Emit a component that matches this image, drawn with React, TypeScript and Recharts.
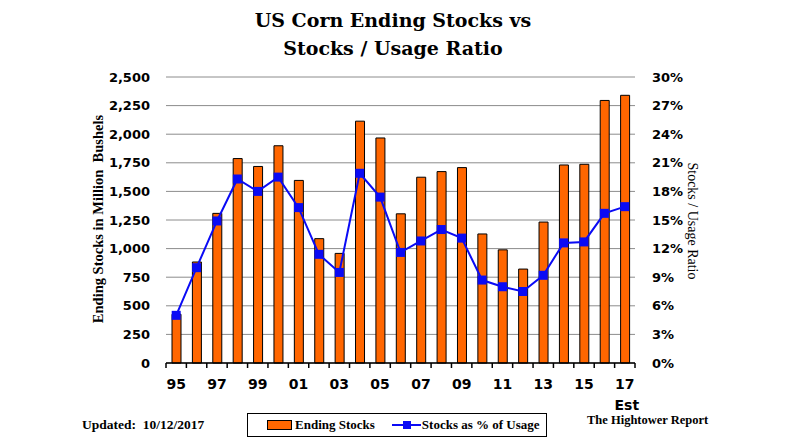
import React from 'react'
import {
  Bar,
  CartesianGrid,
  ComposedChart,
  Legend,
  Line,
  XAxis,
  YAxis,
} from 'recharts'

const years = [
  '95', '96', '97', '98', '99', '00', '01', '02', '03', '04', '05', '06',
  '07', '08', '09', '10', '11', '12', '13', '14', '15', '16', '17',
]
const endingStocks = [
  426, 883, 1308, 1787, 1718, 1899, 1596, 1087, 958, 2114, 1967, 1304,
  1624, 1673, 1708, 1128, 989, 821, 1232, 1731, 1737, 2295, 2340,
]
const stocksToUse = [
  5.0, 10.0, 14.9, 19.3, 18.0, 19.5, 16.3, 11.4, 9.5, 19.9, 17.4, 11.6,
  12.8, 14.0, 13.1, 8.7, 8.0, 7.5, 9.2, 12.6, 12.7, 15.7, 16.4,
]
const stockTicks = [0, 250, 500, 750, 1000, 1250, 1500, 1750, 2000, 2250, 2500]
const ratioTicks = [0, 3, 6, 9, 12, 15, 18, 21, 24, 27, 30]

const data = years.map((year, i) => ({
  year,
  stocks: endingStocks[i],
  ratio: stocksToUse[i],
}))

const ORANGE = '#FF6600'
const BLUE = '#0A0AF5'
const SERIF = '"Liberation Serif", serif'
const SANS = '"DejaVu Sans", sans-serif'

const YearTick = (props: any) => {
  const { x, y, payload, index } = props
  const half = payload?.offset ?? 10.2
  const last = index === years.length - 1
  return (
    <g>
      <line x1={x - half} x2={x - half} y1={y} y2={y + 5} stroke="#000" strokeWidth={1.5} />
      {last && <line x1={x + half} x2={x + half} y1={y} y2={y + 5} stroke="#000" strokeWidth={1.5} />}
      {index % 2 === 0 && (
        <text x={x} y={y + 26} textAnchor="middle" fontFamily={SANS} fontWeight={700} fontSize={14} fill="#000">
          {payload.value}
        </text>
      )}
      {last && (
        <text x={x + 2} y={y + 47} textAnchor="middle" fontFamily={SANS} fontWeight={700} fontSize={14} fill="#000">
          Est
        </text>
      )}
    </g>
  )
}

const SquareDot = (props: any) => {
  const { cx, cy } = props
  if (cx == null || cy == null) return null
  return <rect x={cx - 4.5} y={cy - 4.5} width={9} height={9} fill={BLUE} />
}

const LegendBox = () => (
  <div
    style={{
      boxSizing: 'border-box',
      width: 300,
      height: 24,
      border: '1px solid #000',
      display: 'flex',
      alignItems: 'center',
      paddingLeft: 19,
      fontFamily: SERIF,
      fontWeight: 700,
      fontSize: 13,
      background: '#fff',
    }}
  >
    <span style={{ display: 'flex', alignItems: 'center', marginRight: 17 }}>
      <span style={{ display: 'inline-block', width: 23, height: 8, background: ORANGE, border: '1px solid #000', marginRight: 3 }} />
      Ending Stocks
    </span>
    <span style={{ display: 'flex', alignItems: 'center' }}>
      <svg width={29} height={10} style={{ marginRight: 1 }}>
        <line x1={0} x2={29} y1={5} y2={5} stroke={BLUE} strokeWidth={2} />
        <rect x={11} y={1} width={8} height={8} fill={BLUE} />
      </svg>
      Stocks as % of Usage
    </span>
  </div>
)

const rotated = (cx: number, cy: number, angle: number, size: number, weight: number): React.CSSProperties => ({
  position: 'absolute',
  left: cx - 150,
  top: cy - 9,
  width: 300,
  height: 18,
  lineHeight: '18px',
  textAlign: 'center',
  transform: `rotate(${angle}deg)`,
  fontFamily: SERIF,
  fontWeight: weight,
  fontSize: size,
  whiteSpace: 'pre',
})

export default function App() {
  return (
    <div style={{ position: 'absolute', left: 0, top: 0, width: 790, height: 444, background: '#fff' }}>
      <div
        style={{
          position: 'absolute',
          left: 0,
          top: 6,
          width: 790,
          textAlign: 'center',
          fontFamily: '"DejaVu Serif", serif',
          fontWeight: 700,
          fontSize: 19,
          lineHeight: '28px',
          zIndex: 2,
        }}
      >
        <div style={{ marginLeft: -4 }}>US Corn Ending Stocks vs</div>
        <div style={{ marginLeft: -4 }}>Stocks / Usage Ratio</div>
      </div>
      <ComposedChart
        width={790}
        height={444}
        data={data}
        margin={{ top: 77, right: 0, left: 0, bottom: 0 }}
        barCategoryGap={0}
      >
        <CartesianGrid yAxisId="left" vertical={false} stroke="#8c8c8c" />
        <XAxis
          dataKey="year"
          interval={0}
          height={81}
          tickSize={0}
          tickMargin={0}
          tickLine={false}
          axisLine={{ stroke: '#000', strokeWidth: 1.5 }}
          tick={<YearTick />}
        />
        <YAxis
          yAxisId="left"
          width={166}
          domain={[0, 2500]}
          ticks={stockTicks}
          tickFormatter={(v: number) => v.toLocaleString('en-US')}
          axisLine={false}
          tickLine={false}
          tickSize={0}
          tickMargin={16}
          tick={{ fill: '#000', fontSize: 13, fontWeight: 700, fontFamily: SANS }}
        />
        <YAxis
          yAxisId="right"
          orientation="right"
          width={155}
          domain={[0, 30]}
          ticks={ratioTicks}
          tickFormatter={(v: number) => `${v}%`}
          axisLine={false}
          tickLine={false}
          tickSize={0}
          tickMargin={17}
          tick={{ fill: '#000', fontSize: 13, fontWeight: 700, fontFamily: SANS, textAnchor: 'start' }}
        />
        <Bar
          yAxisId="left"
          dataKey="stocks"
          name="Ending Stocks"
          barSize={9}
          fill={ORANGE}
          stroke="#000"
          strokeWidth={1}
          isAnimationActive={false}
        />
        <Line
          yAxisId="right"
          dataKey="ratio"
          name="Stocks as % of Usage"
          stroke={BLUE}
          strokeWidth={2}
          dot={<SquareDot />}
          activeDot={false}
          isAnimationActive={false}
        />
        <Legend
          layout="vertical"
          verticalAlign="middle"
          align="center"
          content={<LegendBox />}
          wrapperStyle={{ position: 'absolute', left: 247, top: 413, width: 300, height: 24 }}
        />
      </ComposedChart>
      <div style={rotated(98, 219, -90, 14.5, 700)}>Ending Stocks in Million  Bushels</div>
      <div style={rotated(692, 221, 90, 14, 400)}>Stocks / Usage Ratio</div>
      <div style={{ position: 'absolute', left: 82, top: 417, fontFamily: SERIF, fontWeight: 700, fontSize: 13.5 }}>
        Updated:&nbsp; 10/12/2017
      </div>
      <div style={{ position: 'absolute', left: 587, top: 413, fontFamily: SERIF, fontWeight: 700, fontSize: 12.5 }}>
        The Hightower Report
      </div>
    </div>
  )
}
